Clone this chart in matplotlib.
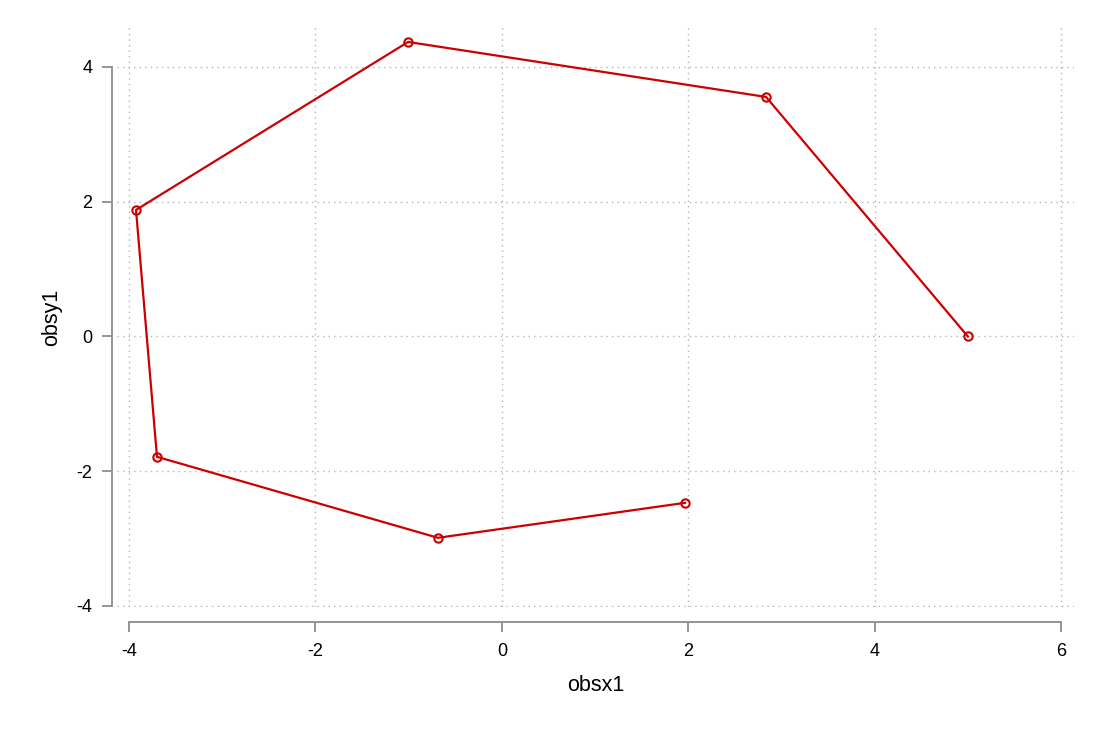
import matplotlib
matplotlib.use('Agg')
import matplotlib.pyplot as plt

plt.rcParams['font.family'] = ['Liberation Sans', 'DejaVu Sans']

# points, in drawing order
obsx1 = [5.0, 2.835, -1.006, -3.925, -3.70, -0.685, 1.966]
obsy1 = [0.0, 3.555, 4.371, 1.878, -1.786, -2.988, -2.469]

xticks = [-4, -2, 0, 2, 4, 6]
yticks = [-4, -2, 0, 2, 4]

red = '#cc0000'
axis_grey = '#8c8c8c'
grid_grey = '#b4b4b4'

fig = plt.figure(figsize=(11.04, 7.36), dpi=100)
ax = fig.add_axes([117/1104, 1 - 607/736, (1074-117)/1104, (607-27)/736])

ax.plot(obsx1, obsy1, color=red, linewidth=1.6, marker='o', markersize=6,
        markerfacecolor='none', markeredgecolor=red, markeredgewidth=1.5, zorder=3)

ax.set_xlim(-4.129, 6.139)
ax.set_ylim(-4.015, 4.593)
ax.set_xticks(xticks)
ax.set_yticks(yticks)
ax.set_xticklabels([str(t) for t in xticks])
ax.set_yticklabels([str(t) for t in yticks])

ax.grid(True, linestyle=(0, (1, 3)), color=grid_grey, linewidth=1.0)
ax.set_axisbelow(True)

for side in ['top', 'right']:
    ax.spines[side].set_visible(False)
ax.spines['left'].set_position(('outward', 3.6))
ax.spines['bottom'].set_position(('outward', 10.8))
ax.spines['left'].set_bounds(-4, 4)
ax.spines['bottom'].set_bounds(-4, 6)
for side in ['left', 'bottom']:
    ax.spines[side].set_color(axis_grey)
    ax.spines[side].set_linewidth(1.3)

ax.tick_params(axis='both', length=7.2, width=1.3, color=axis_grey, labelsize=13)
ax.tick_params(axis='x', pad=8)
ax.tick_params(axis='y', pad=7)

ax.set_xlabel('obsx1', fontsize=15.5, labelpad=10.5)
ax.set_ylabel('obsy1', fontsize=15.5, labelpad=10)

fig.savefig('out.png', dpi=100)
